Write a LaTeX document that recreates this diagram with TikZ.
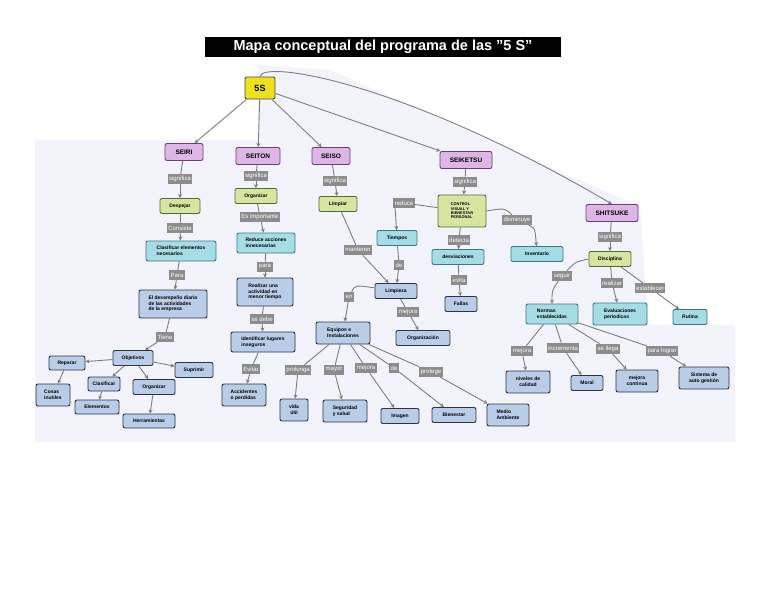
\documentclass[tikz,border=0pt]{standalone}
\usepackage{fontspec}
\setmainfont{Liberation Sans}
\usetikzlibrary{arrows.meta}
\definecolor{pur}{HTML}{DDB6E6}\definecolor{purd}{HTML}{6A3F7A}
\definecolor{yel}{HTML}{EEE01A}\definecolor{grn}{HTML}{D6E6A0}\definecolor{grnd}{HTML}{4F6E35}
\definecolor{cya}{HTML}{A6DCE6}\definecolor{cyad}{HTML}{3D7784}
\definecolor{blu}{HTML}{B9CCE8}\definecolor{blud}{HTML}{2E3440}
\definecolor{lab}{HTML}{8C8C8C}\definecolor{bg}{HTML}{F3F4FB}
\tikzset{
 box/.style={draw,rounded corners=2pt,line width=0.9pt,align=center,font=\fontsize{5}{5.6}\selectfont\bfseries,inner sep=1.5pt},
 pbox/.style={box,fill=pur,draw=purd,font=\fontsize{6.5}{7}\selectfont\bfseries,minimum height=17,minimum width=38},
 gbox/.style={box,fill=grn,draw=grnd,minimum height=15},
 cbox/.style={box,fill=cya,draw=cyad,minimum height=15},
 bbox/.style={box,fill=blu,draw=blud,minimum height=15},
 lbl/.style={fill=lab,text=white,font=\fontsize{6}{6.5}\selectfont,inner sep=1.6pt,minimum height=10},
 cn/.style={draw=lab!90!black,line width=0.9pt},
 ar/.style={cn,-{Stealth[length=4pt,width=4pt]}}
}
\newcommand{\lnk}[3]{\draw[cn] (#1) -- (#2); \draw[ar] (#2) -- (#3);}
\begin{document}
\begin{tikzpicture}[x=1pt,y=-1pt]
\useasboundingbox (0,0) rectangle (768,594);
\fill[white] (0,0) rectangle (768,594);
\fill[bg] (35,442) -- (35,140) -- (258,140) -- (258,65) -- (330,70) -- (620,198) -- (640,205) -- (648,325) -- (735,325) -- (735,442) -- cycle;
\node[fill=black,text=white,font=\fontsize{14.5}{16}\selectfont\bfseries,minimum width=356,minimum height=20,inner sep=0] (title) at (383,47) {Mapa conceptual del programa de las {\char34}5 S{\char34}};
% top level
\node[box,fill=yel,draw=black!70,font=\fontsize{9}{10}\selectfont\bfseries,minimum width=30,minimum height=22] (s5) at (260,88) {5S};
\node[pbox] (seiri) at (184,152) {SEIRI};
\node[pbox,minimum width=44] (seiton) at (258,156) {SEITON};
\node[pbox] (seiso) at (331,156) {SEISO};
\node[pbox,minimum width=52] (seiketsu) at (466,160) {SEIKETSU};
\node[pbox,minimum width=52] (shitsuke) at (612,213) {SHITSUKE};
\draw[ar] (s5) -- (seiri); \draw[ar] (s5) -- (seiton); \draw[ar] (s5) -- (seiso); \draw[ar] (s5) -- (seiketsu);
\draw[ar] (s5.north) .. controls (262,60) and (400,80) .. (shitsuke.north);
% SEIRI
\node[lbl] (l1) at (180,179) {significa};
\node[gbox,minimum width=40] (despejar) at (180,206) {Despejar};
\node[lbl] (l2) at (180,228) {Consiste};
\node[cbox,minimum width=70,minimum height=20,align=left] (clas) at (181,251) {Clasificar elementos\\necesarios};
\node[lbl] (l3) at (177,275) {Para};
\node[bbox,minimum width=68,minimum height=28,align=left] (desemp) at (173,304) {El desempeño diario\\de las actividades\\de la empresa};
\node[lbl] (l4) at (165,337) {Tiene};
\node[bbox,minimum width=40] (obj) at (133,358) {Objetivos};
\node[bbox,minimum width=36,minimum height=14] (rep) at (67,363) {Reparar};
\node[bbox,minimum width=34,minimum height=22,align=left] (cosas) at (53,395) {Cosas\\inutiles};
\node[bbox,minimum width=32,minimum height=14] (clsf) at (104,384) {Clasificar};
\node[bbox,minimum width=44,minimum height=14] (elem) at (97,407) {Elementos};
\node[bbox,minimum width=42] (org1) at (154,387) {Organizar};
\node[bbox,minimum width=52,minimum height=14] (herr) at (149,421) {Herramientas};
\node[bbox,minimum width=38] (sup) at (194,370) {Suprimir};
\lnk{seiri}{l1}{despejar}\lnk{despejar}{l2}{clas}\lnk{clas}{l3}{desemp}\lnk{desemp}{l4}{obj}
\draw[ar] (obj) -- (rep); \draw[ar] (obj) -- (clsf); \draw[ar] (obj) -- (org1); \draw[ar] (obj) -- (sup);
\draw[ar] (rep) -- (cosas); \draw[ar] (clsf) -- (elem); \draw[ar] (org1) -- (herr);
% SEITON
\node[lbl] (l5) at (256,176) {significa};
\node[gbox,minimum width=42] (org2) at (256,196) {Organizar};
\node[lbl] (l6) at (260,217) {Es importante};
\node[cbox,minimum width=58,minimum height=20,align=left] (reduce) at (266,243) {Reduce acciones\\innecesarias};
\node[lbl] (l7) at (265,267) {para};
\node[bbox,minimum width=56,minimum height=28,align=left] (realizar) at (265,292) {Realizar una\\actividad en\\menor tiempo};
\node[lbl] (l8) at (262,319) {se debe};
\node[bbox,minimum width=64,minimum height=20,align=left] (ident) at (263,342) {Identificar lugares\\inseguros};
\node[lbl] (l9) at (251,369) {Evitar};
\node[bbox,minimum width=44,minimum height=22,align=left] (acc) at (244,395) {Accidentes\\o perdidas};
\lnk{seiton}{l5}{org2}\lnk{org2}{l6}{reduce}\lnk{reduce}{l7}{realizar}\lnk{realizar}{l8}{ident}\lnk{ident}{l9}{acc}
% SEISO
\node[lbl] (l10) at (335,181) {significa};
\node[gbox,minimum width=38] (limpiar) at (338,204) {Limpiar};
\node[lbl] (l11) at (358,250) {mantener};
\node[cbox,minimum width=40] (tiempos) at (397,238) {Tiempos};
\node[lbl] (l12) at (404,203) {reduce};
\node[lbl] (l13) at (399,265) {de};
\node[bbox,minimum width=42] (limpieza) at (396,291) {Limpieza};
\node[lbl] (l14) at (349,297) {en};
\node[lbl] (l15) at (408,312) {mejora};
\node[bbox,minimum width=54] (organiz) at (423,338) {Organización};
\node[bbox,minimum width=54,minimum height=22,align=left] (equipos) at (343,333) {Equipos e\\Instalaciones};
\node[lbl] (l16) at (298,370) {prolonga};
\node[lbl] (l17) at (334,370) {mayor};
\node[lbl] (l18) at (366,368) {mejora};
\node[lbl] (l19) at (394,368) {de};
\node[lbl] (l20) at (431,372) {protege};
\node[bbox,minimum width=28,minimum height=22] (vida) at (294,410) {vida\\útil};
\node[bbox,minimum width=44,minimum height=22,align=left] (segur) at (345,411) {Seguridad\\y salud};
\node[bbox,minimum width=38] (imagen) at (400,416) {Imagen};
\node[bbox,minimum width=44] (bien) at (454,415) {Bienestar};
\node[bbox,minimum width=42,minimum height=22,align=left] (medio) at (508,415) {Medio\\Ambiente};
\lnk{seiso}{l10}{limpiar}
\draw[cn] (limpiar) -- (l11); \draw[ar] (l11) -- (limpieza);
\draw[ar] (l12) .. controls (395,205) .. (tiempos);
\lnk{tiempos}{l13}{limpieza}
\draw[cn] (limpieza) .. controls (355,285) .. (l14); \draw[ar] (l14) -- (equipos);
\lnk{limpieza}{l15}{organiz}
\lnk{equipos}{l16}{vida}\lnk{equipos}{l17}{segur}\lnk{equipos}{l18}{imagen}\lnk{equipos}{l19}{bien}\lnk{equipos}{l20}{medio}
% SEIKETSU
\node[lbl] (l21) at (465,182) {significa};
\node[gbox,minimum width=48,minimum height=32,align=left,font=\fontsize{3.9}{4.4}\selectfont\bfseries] (control) at (462,211) {CONTROL\\VISUAL Y\\BIENESTAR\\PERSONAL};
\node[lbl] (l22) at (459,240) {detecta};
\node[cbox,minimum width=52] (desv) at (458,257) {desviaciones};
\node[lbl] (l23) at (459,280) {evita};
\node[bbox,minimum width=32] (fallas) at (461,304) {Fallas};
\node[lbl] (l24) at (517,220) {disminuye};
\node[cbox,minimum width=52] (inv) at (537,254) {Inventario};
\lnk{seiketsu}{l21}{control}\lnk{control}{l22}{desv}\lnk{desv}{l23}{fallas}
\draw[cn] (control) -- (l12);
\draw[cn] (control.east) .. controls (505,208) .. (l24); \draw[ar] (l24) .. controls (535,228) .. (inv);
% SHITSUKE
\node[lbl] (l25) at (610,237) {significa};
\node[gbox,minimum width=42] (disc) at (610,259) {Disciplina};
\node[lbl] (l26) at (562,276) {seguir};
\node[lbl] (l27) at (612,283) {realizar};
\node[lbl] (l28) at (650,288) {establecer};
\node[cbox,minimum width=52,minimum height=20,align=left] (normas) at (552,314) {Normas\\establecidas};
\node[cbox,minimum width=54,minimum height=22,align=left] (eval) at (620,314) {Evaluaciones\\periodicas};
\node[cbox,minimum width=34] (rutina) at (690,317) {Rutina};
\node[lbl] (l29) at (522,351) {mejora};
\node[lbl] (l30) at (563,348) {incrementa};
\node[lbl] (l31) at (608,349) {se llega};
\node[lbl] (l32) at (662,351) {para lograr};
\node[bbox,minimum width=44,minimum height=22] (niveles) at (528,382) {niveles de\\calidad};
\node[bbox,minimum width=32] (moral) at (587,383) {Moral};
\node[bbox,minimum width=42,minimum height=22] (mejc) at (637,381) {mejora\\continua};
\node[bbox,minimum width=50,minimum height=22] (sist) at (704,378) {Sistema de\\auto gestión};
\lnk{shitsuke}{l25}{disc}
\draw[cn] (disc.west) .. controls (575,262) .. (l26); \draw[ar] (l26) .. controls (552,290) .. (normas);
\lnk{disc}{l27}{eval}\lnk{disc}{l28}{rutina}
\draw[cn] (normas) -- (l29); \draw[ar] (l29) -- (niveles);
\draw[cn] (normas) -- (l30); \draw[ar] (l30) -- (moral);
\draw[cn] (normas) -- (l31); \draw[ar] (l31) -- (mejc);
\draw[cn] (normas) -- (l32); \draw[ar] (l32) -- (sist);
\end{tikzpicture}
\end{document}
